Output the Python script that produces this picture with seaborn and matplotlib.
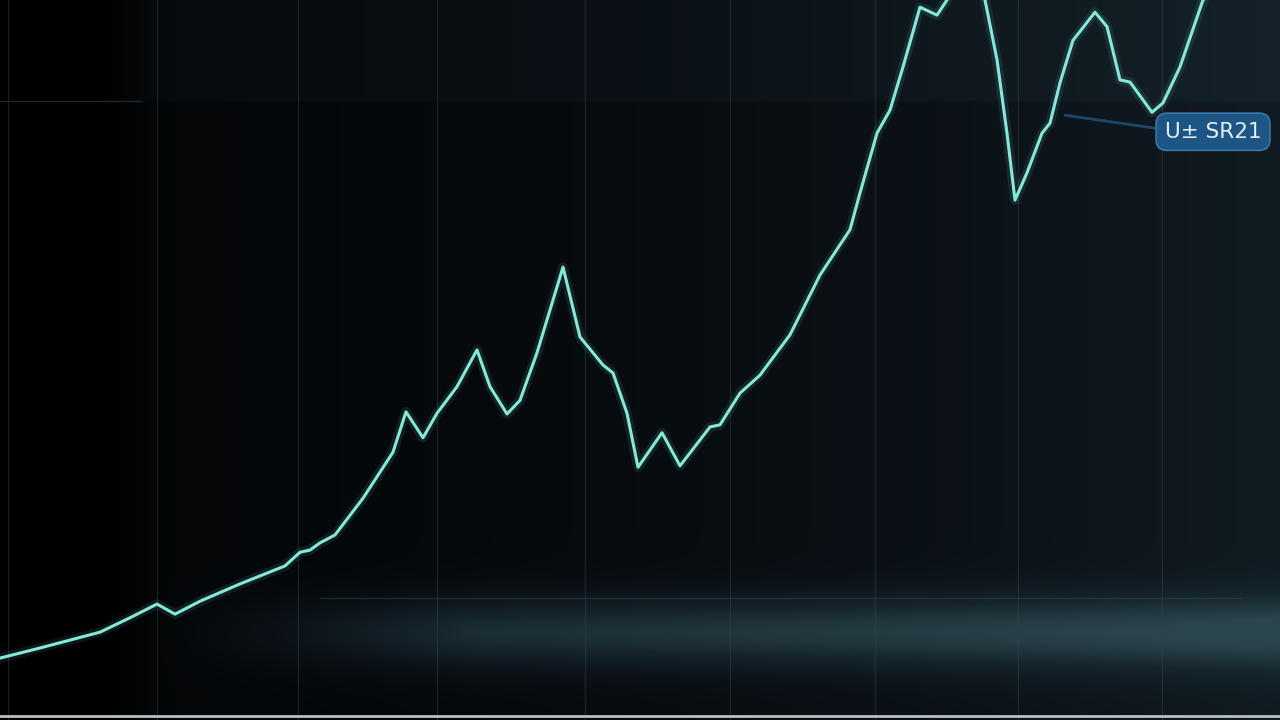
import numpy as np
import pandas as pd
import seaborn as sns
import matplotlib.pyplot as plt
from matplotlib.colors import LinearSegmentedColormap

# series (day index, value in % of the visible range)
days = [0, 4, 10, 13, 15.7, 17.5, 20, 24, 28.5, 30, 31, 32, 33.5, 36.3, 39.3,
        40.6, 42.3, 43.7, 45.7, 47.7, 49, 50.7, 52, 53.7, 56.3, 58, 60.3, 61.3,
        62.7, 63.8, 66.2, 68, 71, 72, 74, 76, 79, 82, 85, 86, 87.7, 89, 90.3,
        92, 93.7, 94.7, 96, 97.5, 98.5, 99.7, 100.7, 101.5, 102.7, 104.2, 105,
        106, 107.3, 109.5, 110.7, 112, 113, 115.2, 116.3, 118, 120.3, 122]
values = [8.6, 10.0, 12.2, 14.2, 16.1, 14.7, 16.5, 18.9, 21.4, 23.3, 23.6,
          24.6, 25.7, 30.8, 37.2, 42.8, 39.2, 42.6, 46.3, 51.4, 46.3, 42.5,
          44.4, 51.0, 62.9, 53.2, 49.3, 48.2, 42.6, 35.1, 39.9, 35.3, 40.7,
          41.0, 45.4, 47.9, 53.5, 61.8, 68.1, 73.2, 81.5, 84.7, 90.7, 99.0,
          97.9, 100.0, 103.5, 104.2, 100.0, 91.7, 81.5, 72.2, 76.0, 81.5,
          82.9, 88.5, 94.4, 98.3, 96.3, 88.9, 88.6, 84.4, 85.7, 90.7, 100.0,
          102.0]
grid_days = [0.8, 15.7, 29.8, 43.7, 58.5, 73, 87.5, 101.8, 116.2]
tag_text = "U± SR21"

df = pd.DataFrame({"day": days, "value": values})

sns.set_theme(style="dark")
plt.rcParams['font.family'] = ['DejaVu Sans']

fig = plt.figure(figsize=(12.8, 7.2), dpi=100)
fig.patch.set_facecolor("#030507")
ax = fig.add_axes([0, 0, 1, 1])
ax.set_xlim(0, 128)
ax.set_ylim(0, 100)

# background: near black, a little lighter slate to the right and at the top
yy, xx = np.mgrid[0:1:300j, 0:1:480j]
right = 1 / (1 + np.exp(-(xx - 0.1) / 0.01))
bg = (0.12 + 0.40 * xx ** 1.6) * right
bg = bg + 0.10 * (yy > 0.86) * right
band = np.exp(-((yy - 0.12) / 0.05) ** 2) * np.clip((xx - 0.12) / 0.25, 0, 1) * 0.55
bg = bg + band
cmap = LinearSegmentedColormap.from_list("bg", ["#000000", "#0a1015", "#16252c", "#2a454c"])
ax.imshow(bg, extent=[0, 128, 0, 100], origin="lower", aspect="auto",
          cmap=cmap, vmin=0, vmax=1.0, zorder=0, interpolation="bilinear")

for g in grid_days:
    ax.axvline(g, color="#34434a", lw=0.9, alpha=0.45, zorder=1)
ax.axhline(86, xmin=0, xmax=0.11, color="#1e282e", lw=0.9, zorder=1)
ax.axhline(16.9, xmin=0.25, xmax=0.97, color="#345058", lw=1.0, alpha=0.4, zorder=1)
ax.axhline(0.6, color="#b8c0c4", lw=2.0, zorder=3)

# glow and main line
sns.lineplot(data=df, x="day", y="value", ax=ax, color="#7fe6d6", lw=7,
             alpha=0.10, zorder=2, legend=False)
sns.lineplot(data=df, x="day", y="value", ax=ax, color="#86e8d8", lw=2.2,
             zorder=3, legend=False, solid_joinstyle="round")

# callout tag
ax.plot([106.5, 115.5], [84.0, 82.2], color="#2a6fae", lw=2, alpha=0.55, zorder=2)
ax.text(121.3, 81.7, tag_text, fontsize=15.5, fontweight="medium", color="#e6eef6",
        ha="center", va="center", zorder=5,
        bbox=dict(boxstyle="round,pad=0.4,rounding_size=0.5",
                  fc="#1d5584", ec="#3a77a6", lw=1.2))

ax.set_axis_off()
fig.savefig("out.png", dpi=100, facecolor=fig.get_facecolor())
